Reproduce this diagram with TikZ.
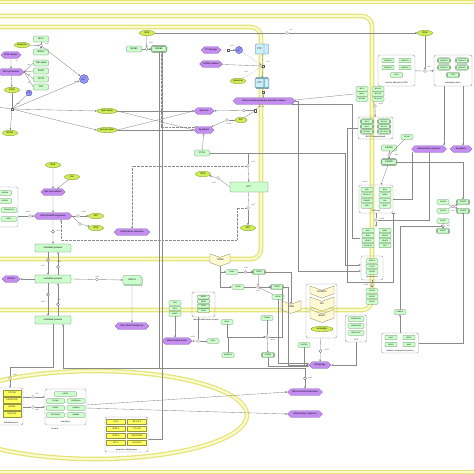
\documentclass[tikz,border=0pt]{standalone}
\usepackage{fontspec}
\setmainfont{Liberation Sans}
\usepackage{xcolor}
\usepackage{tikz}
\usetikzlibrary{shapes,arrows}
\usetikzlibrary{arrows.meta}
\usetikzlibrary{shapes.multipart}
\usetikzlibrary{shadows}

\definecolor{membrane}{RGB}{228,228,118}
\definecolor{membranein}{RGB}{250,250,206}
\definecolor{protfill}{RGB}{204,255,204}
\definecolor{protdraw}{RGB}{95,125,95}
\definecolor{phenfill}{RGB}{196,142,240}
\definecolor{phendraw}{RGB}{125,80,175}
\definecolor{molfill}{RGB}{206,238,84}
\definecolor{moldraw}{RGB}{120,140,40}
\definecolor{ionfill}{RGB}{150,150,250}
\definecolor{iondraw}{RGB}{70,70,160}
\definecolor{genefill}{RGB}{255,255,95}
\definecolor{genedraw}{RGB}{150,150,60}
\definecolor{recfill}{RGB}{255,250,212}
\definecolor{recdraw}{RGB}{140,130,80}
\definecolor{chanfill}{RGB}{204,240,250}
\definecolor{chandraw}{RGB}{60,120,140}
\definecolor{edge}{RGB}{138,138,138}

\begin{document}
\begin{tikzpicture}[x=1pt,y=-1pt]
\tikzstyle{every node}=[font=\fontsize{2.3}{2.6}\selectfont, inner sep=0.4pt]
\tikzstyle{membr}=[draw=membrane, line width=4.6pt, rounded corners=10pt]
\tikzstyle{membrin}=[draw=membranein, line width=2.2pt, rounded corners=10pt]
\tikzstyle{prot}=[rectangle, draw=protdraw, fill=protfill, rounded corners=1pt, line width=0.3pt, minimum width=15pt, minimum height=6pt]
\tikzstyle{mini}=[minimum width=12pt, minimum height=4.6pt, rounded corners=0.8pt, font=\fontsize{1.8}{2}\selectfont]
\tikzstyle{wide}=[minimum width=36pt, minimum height=8pt]
\tikzstyle{active}=[double=protfill, double distance=0.45pt]
\tikzstyle{phen}=[signal, signal to=east and west, draw=phendraw, fill=phenfill, line width=0.3pt, minimum width=20pt, minimum height=6.5pt]
\tikzstyle{mol}=[ellipse, draw=moldraw, fill=molfill, line width=0.3pt, minimum width=15pt, minimum height=5.5pt]
\tikzstyle{ion}=[circle, draw=iondraw, fill=ionfill, line width=0.3pt, minimum size=6pt]
\tikzstyle{genebox}=[rectangle, draw=genedraw, fill=genefill, line width=0.25pt, minimum width=18pt, minimum height=5.4pt, text=black!80]
\tikzstyle{recep}=[signal, signal from=north, signal to=south, signal pointer angle=140, draw=recdraw, fill=recfill, line width=0.3pt, minimum width=20pt, minimum height=8pt]
\tikzstyle{chan}=[rectangle split, rectangle split horizontal, rectangle split parts=2, draw=chandraw, fill=chanfill, rounded corners=1pt, line width=0.3pt, minimum height=10pt, inner xsep=2pt]
\tikzstyle{cplx}=[rectangle, draw=black!55, dash pattern=on 0.7pt off 0.5pt, rounded corners=2pt, line width=0.4pt]
\tikzstyle{grp}=[rectangle, draw=none]
\tikzstyle{rxn}=[circle, draw=black!65, fill=white, line width=0.3pt, minimum size=3pt, inner sep=0pt]
\tikzstyle{rxnsq}=[rectangle, draw=black!65, fill=white, line width=0.3pt, minimum size=2.6pt, inner sep=0pt]
\tikzstyle{link}=[draw=edge, line width=0.35pt]
\tikzstyle{conv}=[link, -{Stealth[length=2.2pt,width=1.8pt,fill=black]}]
\tikzstyle{inhib}=[link, -{Bar[width=2.8pt]}]
\tikzstyle{modul}=[link, draw=black!45, line width=0.3pt, dash pattern=on 0.45pt off 0.9pt, -{Stealth[length=2.2pt,width=1.8pt]}]
\tikzstyle{dinhib}=[link, draw=black!45, line width=0.3pt, dash pattern=on 0.45pt off 0.9pt, -{Bar[width=2.8pt]}]
\tikzstyle{cat}=[link, -{Circle[open,length=2pt]}]
\tikzstyle{rlabel}=[font=\fontsize{1.7}{2}\selectfont, text=black!75, inner sep=0pt]
\tikzstyle{clabel}=[font=\fontsize{2}{2.3}\selectfont, inner sep=0pt]

\useasboundingbox (0,0) rectangle (474,474);
\fill[white] (0,0) rectangle (474,474);

% Background 'containers'
\path[membr] (-10,2) -- (484,2);
\path[membrin] (-10,2) -- (484,2);
\path[membr] (-10,472) -- (484,472);
\path[membrin] (-10,472) -- (484,472);
\path[membr] (-10,16) -- (372,16) -- (372,310) -- (-10,310);
\path[membrin] (-10,16) -- (372,16) -- (372,310) -- (-10,310);
\path[membr] (-10,27) -- (261,27) -- (261,259) -- (-10,259);
\path[membrin] (-10,27) -- (261,27) -- (261,259) -- (-10,259);
\path[membr] (95,415) ellipse [x radius=152, y radius=44];
\path[membrin] (95,415) ellipse [x radius=152, y radius=44];

% matrix, top left
\node[prot] (mcu) at (41,39) {MCU};
\node[prot] (micu) at (41,52) {MICU1};
\node[rxn] (rxn-mcu) at (41,45.5) {};
\node[mol] (spm-a) at (22,45) {Spermine};
\node[phen, minimum width=18pt] (ros-release) at (11,55) {ROS release};
\node[phen, minimum width=26pt] (ros-prod) at (11,72) {ROS production};
\node[prot] (tnf) at (41,63) {TNF alpha};
\node[prot] (sod2) at (41,71) {SOD2};
\node[prot] (gpx4) at (41,79) {GPX4};
\node[prot] (cat) at (41,87) {CAT};
\node[mol] (h2o2) at (12,90) {H2O2};
\node[ion] (fe) at (29,93) {Fe};
\node[ion, minimum size=9pt] (ca-mtx) at (84,79) {Ca\textsuperscript{2+}};
\node[rxnsq] (rxn-fenton) at (12,109) {};
\node[mol] (nadh) at (10,133) {NADH};
\node[mol, minimum width=20pt] (lipid-rad) at (107,111) {lipid radical};
\node[mol, minimum width=20pt] (lipid-perox) at (107,130) {lipid peroxide};
\coordinate (mtx-left) at (-2,107);

% NF-kB and ROS
\node[mol] (ros-mtx) at (147,33) {ROS};
\node[prot] (nfkb) at (134,49) {NFKB1};
\node[prot, active] (nfkb-act) at (159,49) {NFKB1};
\node[rxn] (rxn-nfkb) at (146.5,49) {};
\node[mol] (ros-cyt) at (425,33) {ROS};
\node[rxn] (rxn-ros) at (287,33) {};

% permeability transition pore
\node[phen] (pt-damage) at (211,50) {PT damage};
\node[rxnsq] (rxn-ca) at (228,50) {};
\node[ion] (ca-ims) at (239,50) {Ca\textsuperscript{2+}};
\node[chan] (ptp-closed) at (262,49) {PTP\nodepart{two}\,};
\node[phen] (mtdna) at (211,64) {mtDNA release};
\node[rxnsq] (rxn-ptp) at (263,66) {};
\node[mol] (spm-c) at (238,81) {Spermine};
\node[chan, double=chanfill, double distance=0.45pt] (ptp-open) at (262,83) {PTP\nodepart{two}\,};
\node[rxnsq] (rxn-mmp) at (263,92) {};
\node[phen, minimum width=62pt] (mmp) at (264,101) {mitochondrial membrane potential collapse};

% cell death
\node[phen] (necrosis) at (204,111) {Necrosis};
\node[phen] (apoptosis-m) at (204,130) {Apoptosis};
\node[mol, minimum width=12pt] (atp-a) at (241,120) {ATP};
\node[rxn] (rxn-nec) at (244,110.5) {};
\node[rxnsq] (rxn-mmp2) at (255,110.5) {};
\node[rxn] (rxn-apo) at (227,120) {};
\node[prot] (cycs) at (202,153) {CYCS};

% electron transport
\node[mol] (ros-etc) at (203,174) {ROS};
\node[rxn] (rxn-ros-etc) at (218,178) {};
\node[prot, minimum width=38pt, minimum height=10pt] (etc) at (249,187) {ETC};
\node[rxn] (rxn-etc) at (248,166) {};
\node[rxn] (rxn-atp) at (248,208) {};
\node[mol] (atp-b) at (248,228) {ATP};

% cytosol, ROS targets
\node[cplx, minimum width=37pt, minimum height=31pt] (ros-targets) at (396.5,70.5) {};
\node[prot, mini] (t-map3k5) at (388,60.5) {MAP3K5};
\node[prot, mini] (t-map2k4) at (405,60.5) {MAP2K4};
\node[prot, mini] (t-map2k3) at (388,67.5) {MAP2K3};
\node[prot, mini] (t-map2k6) at (405,67.5) {MAP2K6};
\node[prot, mini] (t-tp53) at (396.5,75) {TP53};
\node[clabel] (ros-targets-lbl) at (396.5,83) {proteins affected by ROS};
\node[cplx, minimum width=38pt, minimum height=31pt] (act-prot) at (453,70.5) {};
\node[prot, mini, active] (a-map3k5) at (444,60.5) {MAP3K5};
\node[prot, mini, active] (a-map2k4) at (462,60.5) {MAP2K4};
\node[prot, mini, active] (a-map2k3) at (444,67.5) {MAP2K3};
\node[prot, mini, active] (a-map2k6) at (462,67.5) {MAP2K6};
\node[prot, mini, active] (a-tp53) at (453,75) {TP53};
\node[clabel] (act-prot-lbl) at (453,83) {activated proteins};
\node[rxn] (rxn-ox) at (425,71) {};
\node[phen, minimum width=35pt] (inflam-c) at (429,149) {inflammatory response};
\node[phen, minimum width=22pt] (apo-c) at (461,149) {Apoptosis};

% BCL2 family
\node[grp, minimum width=32pt, minimum height=16pt] (bcl2-grp) at (370,94) {};
\node[prot, mini] (bcl2) at (362,89) {BCL2};
\node[prot, mini] (bcl2l1) at (378,89) {BCL2L1};
\node[prot, mini] (mcl1) at (362,94) {MCL1};
\node[prot, mini] (bcl2l2) at (378,94) {BCL2L2};
\node[prot, mini] (bcl2a1) at (362,99) {BCL2A1};
\node[prot, mini] (bcl2l10) at (378,99) {BCL2L10};
\node[rxn] (rxn-bcl2) at (375,106) {};
\node[cplx, minimum width=35pt, minimum height=22pt] (bcl2-phos) at (375.5,128) {};
\node[prot, mini, active] (p-bcl2) at (367,121.5) {BCL2};
\node[prot, mini, active] (p-bcl2l1) at (384,121.5) {BCL2L1};
\node[prot, mini, active] (p-mcl1) at (367,126.5) {MCL1};
\node[prot, mini, active] (p-bcl2l2) at (384,126.5) {BCL2L2};
\node[prot, mini, active] (p-bcl2a1) at (367,131.5) {BCL2A1};
\node[prot, mini, active] (p-bcl2l10) at (384,131.5) {BCL2L10};
\node[clabel] (bcl2-phos-lbl) at (375.5,136.5) {BCL2 Phosphorylated};
\node[prot, mini] (cflar) at (407,137) {CFLAR};
\node[prot] (casp8) at (389,148) {CASP8};
\node[rxn] (rxn-casp8) at (389,155) {};
\node[prot, active] (casp8-act) at (389,162) {CASP8};

% BH3-only and pore formers
\node[cplx, minimum width=34pt, minimum height=28pt] (bh3) at (376,199) {};
\node[prot, mini] (bid) at (367,189.5) {BID};
\node[prot, mini] (bad) at (385,189.5) {BAD};
\node[prot, mini] (bcl2l11) at (367,195) {BCL2L11};
\node[prot, mini] (bbc3) at (385,195) {BBC3};
\node[prot, mini] (pmaip1) at (367,200.5) {PMAIP1};
\node[prot, mini] (bik) at (385,200.5) {BIK};
\node[prot, mini] (hrk) at (367,206) {HRK};
\node[prot, mini] (bmf) at (385,206) {BMF};
\node[clabel] (bh3-lbl) at (376,211) {BH3-only};
\node[rxn] (rxn-bax) at (376,220) {};
\node[grp, minimum width=32pt, minimum height=22pt] (bax-grp) at (376,238) {};
\node[prot, mini] (bax) at (368,230.5) {BAX};
\node[prot, mini] (bak1) at (385,230.5) {BAK1};
\node[prot, mini] (bok) at (368,235.5) {BOK};
\node[prot, mini] (vdac1) at (385,235.5) {VDAC1};
\node[prot, mini] (vdac2) at (368,240.5) {VDAC2};
\node[prot, mini] (vdac3) at (385,240.5) {VDAC3};
\node[prot, mini] (slc25a4) at (368,245.5) {SLC25A4};
\node[prot, mini] (ppif) at (385,245.5) {PPIF};
\node[cplx, minimum width=22pt, minimum height=24pt] (apoptosome) at (372,268) {};
\node[prot, mini] (apaf1) at (372,261) {APAF1};
\node[prot, mini] (s-cycs) at (372,266.5) {CYCS};
\node[prot, mini] (s-casp9) at (372,272) {CASP9};
\node[clabel] (apoptosome-lbl) at (372,277.5) {Apoptosome};
\node[rxn] (rxn-casp) at (372,285) {};
\node[grp, minimum width=14pt, minimum height=18pt] (casp-grp) at (372,297) {};
\node[prot, mini] (casp3) at (372,291) {CASP3};
\node[prot, mini] (casp6) at (372,296.5) {CASP6};
\node[prot, mini] (casp7) at (372,302) {CASP7};

% caspase cascade
\node[prot, mini] (casp9-a) at (443,202) {CASP9};
\node[prot, mini, active] (casp9-b) at (463,202) {CASP9};
\node[prot, mini] (casp3-a) at (443,211) {CASP3};
\node[prot, mini, active] (casp3-b) at (463,211) {CASP3};
\node[rxn] (rxn-c9) at (453,206.5) {};
\node[prot, mini] (casp7-a) at (443,221) {CASP7};
\node[rxn] (rxn-c7) at (443,226) {};
\node[prot, mini, active] (casp7-b) at (443,231) {CASP7};
\node[prot, mini] (diablo) at (400,312) {DIABLO};
\node[cplx, minimum width=37pt, minimum height=20pt] (iap) at (400,343) {};
\node[prot, mini] (xiap) at (391,337.5) {XIAP};
\node[prot, mini] (birc2) at (409,337.5) {BIRC2};
\node[prot, mini] (birc3) at (391,344.5) {BIRC3};
\node[prot, mini] (naip) at (409,344.5) {NAIP};
\node[clabel] (iap-lbl) at (400,350.5) {inhibitors of apoptosis proteins};

% mitophagy
\node[cplx, minimum width=21pt, minimum height=27pt] (lc3) at (356,328.5) {};
\node[prot, mini, minimum width=16pt] (lc3a) at (356,319) {MAP1LC3A};
\node[prot, mini, minimum width=16pt] (lc3b) at (356,326) {MAP1LC3B};
\node[prot, mini, minimum width=16pt] (lc3c) at (356,333) {MAP1LC3C};
\node[clabel] (lc3-lbl) at (356,339.5) {LC3};
\node[cplx, minimum width=31pt, minimum height=54pt] (mito-rec) at (321.5,311) {};
\node[recep, minimum width=24pt, minimum height=7pt] (fundc1) at (322,292) {FUNDC1};
\node[recep, minimum width=24pt, minimum height=7pt] (nix) at (322,304) {NIX};
\node[recep, minimum width=24pt, minimum height=7pt] (bnip3) at (322,316) {BNIP3};
\node[mol, minimum width=22pt] (cardiolipin) at (322,329) {cardiolipin};
\node[prot, mini] (sqstm1) at (304,345) {SQSTM1};
\node[phen, minimum width=22pt] (mitophagy) at (320,365) {Mitophagy};

% PINK1 / PRKN
\node[recep] (tomm) at (220,260) {TOMM};
\node[prot, mini] (pink1) at (232,272) {PINK1};
\node[rxn] (rxn-pink1) at (245.5,272) {};
\node[prot, mini, active] (pink1-act) at (259,272) {PINK1};
\node[prot, mini] (prkn) at (238,287) {PRKN};
\node[rxn] (rxn-prkn) at (258,287) {};
\node[prot, mini, active] (prkn-act) at (277,287) {PRKN};
\node[prot, mini] (usp30) at (278,297) {USP30};
\node[recep] (timm) at (291,307) {TIMM};

% fusion / fission
\node[cplx, minimum width=23pt, minimum height=25pt] (dyn-cplx) at (203.5,304.5) {};
\node[prot, mini, minimum height=3.8pt] (mfn1) at (203.5,297) {MFN1};
\node[prot, mini, minimum height=3.8pt] (mfn2) at (203.5,301.5) {MFN2};
\node[prot, mini, minimum height=3.8pt] (opa1-c) at (203.5,306) {OPA1};
\node[prot, mini, minimum height=3.8pt] (opa3) at (203.5,310.5) {OPA3};
\node[clabel] (dyn-lbl) at (206,319.5) {mitochondrial fusion proteins};
\node[prot, mini] (fis1) at (175,303) {FIS1};
\node[prot, mini] (mff) at (175,308.5) {MFF};
\node[prot, mini] (mief2) at (175,314) {MIEF2};
\node[phen, minimum width=30pt] (fusion) at (177,341) {Mitochondrial fusion};
\node[rxn] (rxn-fusion) at (198,341) {};
\node[prot, mini] (opa1) at (213,341) {OPA1};
\node[prot, mini] (mul1) at (227,322) {MUL1};
\node[prot, mini] (march5) at (228,355) {MARCH5};
\node[prot, mini] (pgam5) at (267,318) {PGAM5};
\node[rxn] (rxn-pgam5) at (267,337) {};
\node[prot, mini, active] (pgam5-act) at (268,355) {PGAM5};

% matrix, left side
\node[mol] (ros-l) at (53,165) {ROS};
\node[mol] (iron) at (72,177) {Iron};
\node[phen, minimum width=22pt] (lipid-perox-ph) at (53,192) {lipid peroxidation};
\node[cplx, minimum width=24pt, minimum height=40pt] (ncoa) at (6,207) {};
\node[prot, mini, minimum width=13pt] (ncoa4) at (5,193) {NCOA4};
\node[prot, mini, minimum width=13pt] (ncoa1) at (5,201) {NCOA1};
\node[prot, mini, minimum width=16pt] (ppargc1a) at (9,210) {PPARGC1A};
\node[prot, mini, minimum width=16pt] (nrf1) at (9,219) {NRF1};
\node[phen, minimum width=38pt] (mito-biog) at (53,216) {mitochondrial biogenesis};
\node[rxn] (rxn-biog) at (30,216) {};
\node[rxn] (rxn-mb1) at (78,216) {};
\node[rxn] (rxn-mb2) at (80,224) {};
\node[mol] (atp-l) at (96,216) {ATP};
\node[mol] (ros-l2) at (96,228) {ROS};
\node[phen, minimum width=36pt] (inflam-l) at (132,232) {inflammatory response};
\node[prot, wide] (misf-mtx) at (53,248) {misfolded proteins};
\node[prot, wide] (misf-ims) at (53,279) {misfolded proteins};
\node[prot, wide] (misf-cyt) at (53,320) {misfolded proteins};
\node[phen, minimum width=18pt] (uprmt) at (11,279) {UPRmt};
\node[prot, minimum width=18pt, minimum height=9pt, copy shadow={shadow xshift=1.2pt, shadow yshift=-1.2pt}] (hsp60) at (132,280) {HSPD1};
\node[phen, minimum width=34pt] (heatshock) at (132,326) {Heat Shock Response};

% nucleus
\node[cplx, minimum width=26pt, minimum height=37pt] (genes-act) at (10,406.5) {};
\node[genebox] (g-cryab) at (12,393) {CRYAB};
\node[genebox] (g-serpinh1) at (12,400) {SERPINH1};
\node[genebox] (g-hspb1) at (12,407) {HSPB1};
\node[genebox] (g-hspa1a) at (12,414) {HSPA1A};
\node[clabel] (genes-act-lbl) at (11,422.5) {activated genes};
\node[rxn] (rxn-hsf) at (10,378) {};
\node[rxn] (rxn-tr1) at (33,397) {};
\node[rxn] (rxn-tr2) at (33,407) {};
\node[cplx, minimum width=41pt, minimum height=36pt] (transl) at (65.5,407) {};
\node[prot, mini, minimum width=22pt] (t-hspd1) at (65.5,394) {HSPD1};
\node[prot, mini, minimum width=18pt] (t-cryab) at (55.5,401) {CRYAB};
\node[prot, mini, minimum width=18pt] (t-serpinh1) at (76,401) {SERPINH1};
\node[prot, mini, minimum width=18pt] (t-hspb1) at (55.5,408) {HSPB1};
\node[prot, mini, minimum width=18pt] (t-hspa1a) at (76,408) {HSPA1A};
\node[prot, mini, minimum width=18pt] (t-hsp90aa1) at (55.5,415) {HSP90AA1};
\node[prot, mini, minimum width=18pt] (t-dnajb1) at (76,415) {DNAJB1};
\node[clabel] (transl-lbl) at (65.5,422) {translation};
\node[clabel] (nucleus-lbl) at (55,429) {nucleus};
\node[cplx, minimum width=43pt, minimum height=35pt] (genes-apo) at (126.5,434.5) {};
\node[genebox, minimum width=19pt] (g-hsp) at (116,421.5) {HSP};
\node[genebox, minimum width=19pt] (g-bcl2l1) at (137,421.5) {BCL2L1};
\node[genebox, minimum width=19pt] (g-birc2) at (116,428.5) {BIRC2};
\node[genebox, minimum width=19pt] (g-cflar) at (137,428.5) {CFLAR};
\node[genebox, minimum width=19pt] (g-birc3) at (116,435.5) {BIRC3};
\node[genebox, minimum width=19pt] (g-serpinb2) at (137,435.5) {SERPINB2};
\node[genebox, minimum width=19pt] (g-bcl2) at (116,442.5) {BCL2};
\node[genebox, minimum width=19pt] (g-bcl2a1) at (137,442.5) {BCL2A1};
\node[clabel] (genes-apo-lbl) at (126.5,449.5) {apoptosis related genes};
\node[phen, minimum width=35pt] (mito-dys) at (305,392) {Mitochondrial dysfunction};
\node[phen, minimum width=35pt] (inflam-n) at (305,414) {Inflammatory response};
\coordinate (nf-turn) at (159,368);
\coordinate (dot-a) at (237,240);

% connectors, matrix
\path[link] (mcu) -- (rxn-mcu);
\path[conv] (rxn-mcu) -- (micu);
\path[cat] (spm-a) -- (rxn-mcu);
\path[conv] (rxn-mcu) -- (ca-mtx);
\path[conv] (ros-release) -- (ros-prod);
\path[conv] (tnf.west) -- (ros-prod.east);
\path[inhib] (sod2.west) -- (ros-prod.east);
\path[inhib] (gpx4.west) -- (ros-prod.east);
\path[inhib] (cat.west) -- (ros-prod.east);
\path[conv] (ros-prod) -- (h2o2);
\path[link] (h2o2) -- (rxn-fenton);
\path[link] (fe) -- (rxn-fenton);
\path[link] (mtx-left) -- (rxn-fenton);
\path[conv] (rxn-fenton) -- (nadh);
\path[conv] (rxn-fenton) -- (lipid-rad.west);
\path[conv] (rxn-fenton) -- (lipid-perox.west);
\path[conv] (rxn-fenton) -- (ca-mtx);
\path[conv] (lipid-rad.east) -- (necrosis.west);
\path[conv] (lipid-rad.east) -- (apoptosis-m.west);
\path[conv] (lipid-perox.east) -- (necrosis.west);
\path[conv] (lipid-perox.east) -- (apoptosis-m.west);

% connectors, ROS and PTP
\path[link] (ros-mtx) -- (rxn-ros);
\path[conv] (rxn-ros) -- (ros-cyt);
\path[link] (nfkb) -- (rxn-nfkb);
\path[conv] (rxn-nfkb) -- (nfkb-act);
\path[cat] (ros-mtx) -- (rxn-nfkb);
\path[modul] ([xshift=2pt]nfkb-act.south) |- (apoptosis-m.north west);
\path[conv] (nfkb-act.south) -- (nf-turn) -| ([xshift=10pt]misf-cyt.south);
\path[conv] ([xshift=3pt]nfkb-act.south) |- ([yshift=-5pt]genes-apo.east);
\path[conv] (nf-turn) -| node[rxn, pos=0.75] (rxn-dys) {} (mito-dys.north);
\path[link] (pt-damage) -- (rxn-ca);
\path[conv] (rxn-ca) -- (ca-ims);
\path[link] (ptp-closed) -- (rxn-ptp);
\path[conv] (rxn-ptp) -- (ptp-open);
\path[modul] (ca-ims) -- (rxn-ptp);
\path[link] (mtdna) -- (rxn-ptp);
\path[dinhib] (spm-c) -- (rxn-ptp);
\path[link] (ptp-open) -- (rxn-mmp);
\path[conv] (rxn-mmp) -- (mmp);
\path[link] (mmp) -- (rxn-mmp2);
\path[link] (rxn-mmp2) -- (rxn-nec);
\path[conv] (rxn-nec) -- (necrosis);
\path[link] (rxn-mmp2) -- (atp-a);
\path[link] (atp-a) -- (rxn-apo);
\path[conv] (rxn-apo) -- (apoptosis-m);
\path[conv] (cycs) -- (apoptosis-m);

% connectors, electron transport
\path[link] (cycs.east) -| (rxn-etc);
\path[conv] (rxn-etc) -- (etc);
\path[link] (etc) -- (rxn-atp);
\path[conv] (rxn-atp) -- (atp-b);
\path[link] (etc.west) -- (rxn-ros-etc);
\path[conv] (rxn-ros-etc) -- (ros-etc);
\path[modul] (rxn-etc) -| (inflam-l.north);
\path[modul] (rxn-atp) -| (dot-a) -| ([xshift=8pt]mito-biog.south);
\path[conv] (cycs.east) -- (345,153) |- ([yshift=3pt]apoptosome.west);
\path[conv] (mmp.east) -- ++(3,0) |- ([yshift=-3pt]apoptosome.west);

% connectors, cytosol
\path[link] (ros-targets) -- (rxn-ox);
\path[conv] (rxn-ox) -- (act-prot);
\path[cat] (ros-cyt) -- (rxn-ox);
\path[conv] ([xshift=-9pt]act-prot.south) -- ([xshift=-9pt]act-prot.south |- inflam-c.north);
\path[conv] ([xshift=10pt]act-prot.south) -- ([xshift=10pt]act-prot.south |- apo-c.north);
\path[inhib] (bcl2-grp.west) -- ([yshift=1pt]mmp.east);
\path[link] (bcl2-grp) -- (rxn-bcl2);
\path[conv] (rxn-bcl2) -- (bcl2-phos);
\path[inhib] (cflar) -- (rxn-casp8);
\path[link] (casp8) -- (rxn-casp8);
\path[conv] (rxn-casp8) -- (casp8-act);
\path[conv] (casp8-act.east) -| (casp9-b.north);
\path[conv] (casp8-act) -- (bh3);
\path[link] (bh3) -- (rxn-bax);
\path[conv] (rxn-bax) -- (bax-grp);
\path[conv] (bax-grp.west) -- ++(-8,0) |- (mmp.south east);
\path[inhib] (bcl2-phos.west) -| (347,282) -| (bh3.south east);
\path[link] (inflam-c.south) |- (rxn-bax.east);
\path[link] ([xshift=-17pt]inflam-c.south) |- (bh3.east);
\path[link] (apoptosome) -- (rxn-casp);
\path[conv] (rxn-casp) -- (casp-grp);
\path[link] (casp9-a) -- (rxn-c9);
\path[conv] (rxn-c9) -- (casp9-b);
\path[link] (casp3-a) -- (rxn-c9);
\path[conv] (rxn-c9) -- (casp3-b);
\path[link] (casp7-a) -- (rxn-c7);
\path[conv] (rxn-c7) -- (casp7-b);
\path[inhib] (iap.east) -| (casp3-b.south);
\path[inhib] (diablo.north) |- (rxn-c7.west);
\path[conv] (iap) -- (diablo);

% connectors, mitophagy
\path[conv] (mito-rec) -- node[rxn, pos=0.55] (rxn-mph1) {} (mitophagy);
\path[conv] (lc3.south) |- (mitophagy.east);
\path[conv] (sqstm1.south) |- (mitophagy.west);
\path[conv] (pgam5-act.south) |- ([yshift=-1.5pt]mitophagy.west);
\path[conv] (usp30.south) |- ([yshift=1.5pt]mitophagy.west);
\path[conv] (prkn-act.east) -- ++(5,0) |- (mitophagy.west);
\path[conv] (tomm.south) |- (pink1.west);
\path[conv] (tomm.south) |- (prkn.west);
\path[link] (pink1) -- (rxn-pink1);
\path[conv] (rxn-pink1) -- (pink1-act);
\path[link] (prkn) -- (rxn-prkn);
\path[conv] (rxn-prkn) -- (prkn-act);
\path[cat] (pink1-act) -- (rxn-prkn);
\path[inhib] (usp30) -- (rxn-prkn);
\path[conv] (pink1-act.east) -| (timm.north);
\path[link] (dyn-cplx.south -| rxn-fusion) -- (rxn-fusion);
\path[link] (opa1) -- (rxn-fusion);
\path[conv] (rxn-fusion) -- (fusion);
\path[conv] (mief2.south) -- (mief2.south |- fusion.north);
\path[cat] (mul1.south) |- (rxn-pgam5);
\path[cat] (march5.north) |- (rxn-pgam5);
\path[link] (pgam5) -- (rxn-pgam5);
\path[conv] (rxn-pgam5) -- (pgam5-act);
\path[link] (rxn-pgam5) -| ([xshift=5pt]prkn-act.south);

% connectors, left side and nucleus
\path[conv] (ros-l) -- (lipid-perox-ph);
\path[conv] (iron) -- (lipid-perox-ph);
\path[conv] (lipid-perox-ph) -- (mito-biog);
\path[link] (ncoa.east |- mito-biog) -- (rxn-biog);
\path[conv] (rxn-biog) -- (mito-biog.west);
\path[link] (mito-biog.east) -- (rxn-mb1);
\path[conv] (rxn-mb1) -- (atp-l);
\path[link] (mito-biog.east) -- (rxn-mb2);
\path[conv] (rxn-mb2) -- (ros-l2);
\path[conv] (mito-biog) -- node[rxn, pos=0.5] (rxn-mf) {} (misf-mtx);
\path[conv] ([xshift=-5pt]misf-mtx.south) -- node[rxn, pos=0.35] (rxn-imp1) {} ([xshift=-5pt]misf-ims.north);
\path[conv] ([xshift=5pt]misf-ims.north) -- node[rxn, pos=0.35] (rxn-exp1) {} ([xshift=5pt]misf-mtx.south);
\path[conv] ([xshift=-5pt]misf-ims.south) -- node[rxn, pos=0.35] (rxn-imp2) {} ([xshift=-5pt]misf-cyt.north);
\path[conv] ([xshift=5pt]misf-cyt.north) -- node[rxn, pos=0.35] (rxn-exp2) {} ([xshift=5pt]misf-ims.south);
\path[conv] (misf-ims.west) -- (uprmt.east);
\path[conv] (misf-ims.east) -- node[rxn, pos=0.5] (rxn-hsp) {} (hsp60.west);
\path[conv] (hsp60) -- (heatshock);
\path[link] (misf-cyt.south) -- ++(0,43) -| (rxn-hsf);
\path[conv] (rxn-hsf) -- (genes-act);
\path[link] (genes-act.east |- rxn-tr1) -- (rxn-tr1);
\path[conv] (rxn-tr1) -- (transl.west |- rxn-tr1);
\path[link] (genes-act.east |- rxn-tr2) -- (rxn-tr2);
\path[conv] (rxn-tr2) -- (transl.west |- rxn-tr2);
\path[conv] ([yshift=2pt]transl.east) -- (mito-dys.west);
\path[conv] ([yshift=-1pt]transl.east) -- (inflam-n.west);

% reaction labels
\node[rlabel] (lbl-re1) at (291,30) {re1};
\node[rlabel] (lbl-re97) at (151,43) {re97};
\node[rlabel] (lbl-re12) at (47,44) {re12};
\node[rlabel] (lbl-re7) at (17,61) {re7};
\node[rlabel] (lbl-re5) at (29,65) {re5};
\node[rlabel] (lbl-re4) at (29,75) {re4};
\node[rlabel] (lbl-re3) at (29,83) {re3};
\node[rlabel] (lbl-re22) at (18,104) {re22};
\node[rlabel] (lbl-re20) at (76,82) {re20};
\node[rlabel] (lbl-re74) at (232,46) {re74};
\node[rlabel] (lbl-re73) at (268,62) {re73};
\node[rlabel] (lbl-re76) at (246,72) {re76};
\node[rlabel] (lbl-re75) at (268,89) {re75};
\node[rlabel] (lbl-re109) at (262,107) {re109};
\node[rlabel] (lbl-re110) at (229,124) {re110};
\node[rlabel] (lbl-re6) at (429,67) {re6};
\node[rlabel] (lbl-re14) at (253,162) {re14};
\node[rlabel] (lbl-re15) at (253,205) {re15};
\node[rlabel] (lbl-re16) at (214,183) {re16};
\node[rlabel] (lbl-re131) at (381,104) {re131};
\node[rlabel] (lbl-re28) at (396,155) {re28};
\node[rlabel] (lbl-re128) at (365,182) {re128};
\node[rlabel] (lbl-re129) at (382,219) {re129};
\node[rlabel] (lbl-re130) at (366,285) {re130};
\node[rlabel] (lbl-re31) at (453,211) {re31};
\node[rlabel] (lbl-re32) at (448,226) {re32};
\node[rlabel] (lbl-re41) at (246,268) {re41};
\node[rlabel] (lbl-re42) at (258,291) {re42};
\node[rlabel] (lbl-re122) at (193,337) {re122};
\node[rlabel] (lbl-re121) at (273,340) {re121};
\node[rlabel] (lbl-re137) at (327,350) {re137};
\node[rlabel] (lbl-re140) at (310,378) {re140};
\node[rlabel] (lbl-re45) at (15,375) {re45};
\node[rlabel] (lbl-re47) at (37,394) {re47};
\node[rlabel] (lbl-re48) at (37,410) {re48};
\node[rlabel] (lbl-re79) at (59,262) {re79};
\node[rlabel] (lbl-re80) at (43,266) {re80};
\node[rlabel] (lbl-re81) at (59,300) {re81};
\node[rlabel] (lbl-re82) at (43,302) {re82};
\node[rlabel] (lbl-re88) at (97,277) {re88};
\node[rlabel] (lbl-re102) at (28,212) {re102};
\node[rlabel] (lbl-re103) at (84,212) {re103};
\node[rlabel] (lbl-re78) at (58,231) {re78};
\end{tikzpicture}
\end{document}
